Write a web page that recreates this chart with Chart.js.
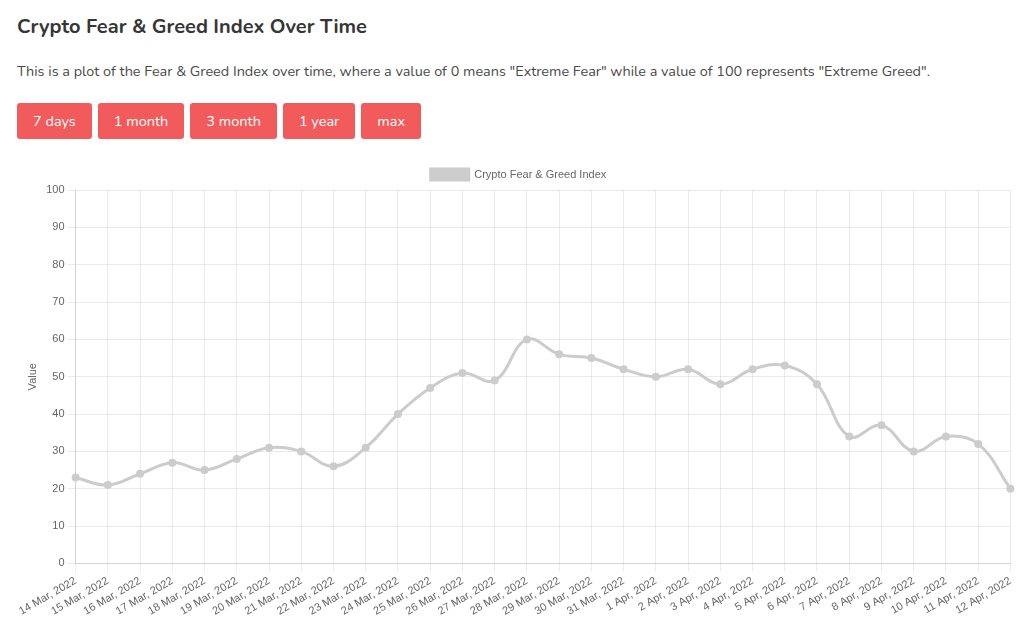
<!DOCTYPE html>
<html>
<head>
<meta charset="utf-8">
<script src="https://cdn.jsdelivr.net/npm/chart.js@4"></script>
<style>
	body { margin: 0; font-family: "Nunito", "Open Sans", Lato, sans-serif; color: #333; background: #fff; }
	.wrap { padding: 0 17px; }
	h2 { font-size: 20px; font-weight: 700; margin: 13px 0 0 0; line-height: 28px; color: #363636; }
	p { font-size: 14.45px; margin: 20px 0 0 0; color: #4a4a4a; }
	.buttons { margin-top: 22px; }
	.buttons button { background: #f15b5b; color: #fff; border: 0; border-radius: 3px; font-size: 14.5px; height: 36px; padding: 0 16px; margin-right: 6px; font-family: inherit; }
	.chart-box { position: relative; width: 1003px; height: 462px; margin-top: 20px; }
</style>
</head>
<body>
<div class="wrap">
	<h2>Crypto Fear &amp; Greed Index Over Time</h2>
	<p>This is a plot of the Fear &amp; Greed Index over time, where a value of 0 means "Extreme Fear" while a value of 100 represents "Extreme Greed".</p>
	<div class="buttons">
		<button>7 days</button><button>1 month</button><button>3 month</button><button>1 year</button><button>max</button>
	</div>
	<div class="chart-box"><canvas id="fng-chart"></canvas></div>
</div>
<script>
var dateLabels = ["14 Mar, 2022", "15 Mar, 2022", "16 Mar, 2022", "17 Mar, 2022", "18 Mar, 2022", "19 Mar, 2022", "20 Mar, 2022", "21 Mar, 2022", "22 Mar, 2022", "23 Mar, 2022", "24 Mar, 2022", "25 Mar, 2022", "26 Mar, 2022", "27 Mar, 2022", "28 Mar, 2022", "29 Mar, 2022", "30 Mar, 2022", "31 Mar, 2022", "1 Apr, 2022", "2 Apr, 2022", "3 Apr, 2022", "4 Apr, 2022", "5 Apr, 2022", "6 Apr, 2022", "7 Apr, 2022", "8 Apr, 2022", "9 Apr, 2022", "10 Apr, 2022", "11 Apr, 2022", "12 Apr, 2022"];
var indexValues = [23, 21, 24, 27, 25, 28, 31, 30, 26, 31, 40, 47, 51, 49, 60, 56, 55, 52, 50, 52, 48, 52, 53, 48, 34, 37, 30, 34, 32, 20];

window.onload = function() {
	Chart.defaults.font.family = "'Liberation Sans', Arial, sans-serif";
	Chart.defaults.font.size = 11;
	Chart.defaults.color = "#666";

	window.fngChart = new Chart(document.getElementById("fng-chart"), {
		type: "line",
		data: {
			labels: dateLabels,
			datasets: [{
				label: "Crypto Fear & Greed Index",
				data: indexValues,
				borderColor: "rgba(204, 204, 204, 1)",
				backgroundColor: "rgba(204, 204, 204, 1)",
				borderWidth: 3,
				pointRadius: 2.5,
				fill: false,
				tension: 0.4
			}]
		},
		options: {
			responsive: true,
			maintainAspectRatio: false,
			animation: { duration: 0 },
			plugins: {
				legend: { labels: { boxWidth: 38, boxHeight: 11 } }
			},
			scales: {
				x: {
					grid: { color: "rgba(0,0,0,0.08)" },
					ticks: { maxRotation: 30, minRotation: 30, autoSkip: false }
				},
				y: {
					min: 0, max: 100,
					ticks: { stepSize: 10 },
					grid: { color: "rgba(0,0,0,0.08)" },
					title: { display: true, text: "Value" }
				}
			}
		}
	});
}
</script>
</body>
</html>
